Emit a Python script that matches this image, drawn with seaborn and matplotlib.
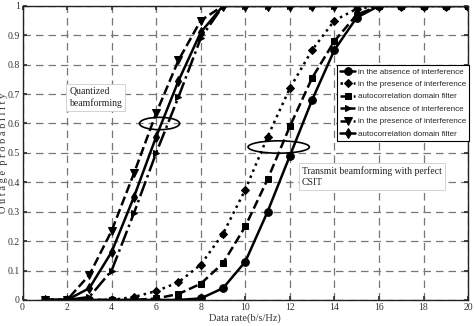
import numpy as np
import pandas as pd
import matplotlib
matplotlib.use("Agg")
import matplotlib.pyplot as plt
from matplotlib.patches import Ellipse
import seaborn as sns

sns.set_theme(style="white")
plt.rcParams['font.family'] = ['Liberation Serif', 'DejaVu Serif']

rate = list(range(1, 21))

# Transmit beamforming with perfect CSIT
csit_absence = [0, 0, 0, 0, 0, 0, 0, 0.005, 0.04, 0.13, 0.30, 0.49, 0.68, 0.85, 0.96, 1, 1, 1, 1, 1]
csit_presence = [0, 0, 0, 0, 0.01, 0.03, 0.06, 0.12, 0.225, 0.375, 0.555, 0.72, 0.85, 0.95, 0.99, 1, 1, 1, 1, 1]
csit_filter = [0, 0, 0, 0, 0, 0.005, 0.02, 0.055, 0.125, 0.25, 0.41, 0.59, 0.755, 0.88, 0.97, 1, 1, 1, 1, 1]

# Quantized beamforming
quant_absence = [0, 0, 0.01, 0.10, 0.295, 0.50, 0.69, 0.89, 1, 1, 1, 1, 1, 1, 1, 1, 1, 1, 1, 1]
quant_presence = [0, 0, 0.085, 0.235, 0.43, 0.635, 0.815, 0.95, 1, 1, 1, 1, 1, 1, 1, 1, 1, 1, 1, 1]
quant_filter = [0, 0, 0.04, 0.163, 0.35, 0.555, 0.745, 0.91, 1, 1, 1, 1, 1, 1, 1, 1, 1, 1, 1, 1]

labels = ["in the absence of interference", "in the presence of interference",
          "autocorrelation domain filter", "in the absence of interference",
          "in the presence of interference", "autocorrelation domain filter"]

series = [csit_absence, csit_presence, csit_filter, quant_absence, quant_presence, quant_filter]
styles = [("-", "o", 5.5), (":", "D", 4.5), ("--", "s", 4.5),
          ("-.", ">", 5), ("--", "v", 6), ("-", "d", 5.5)]

fig = plt.figure(figsize=(4.74, 3.26), dpi=100)
ax = fig.add_axes([0.0475, 0.08, 0.94, 0.902])

for vals, lab, (ls, mk, ms) in zip(series, labels, styles):
    df = pd.DataFrame({"rate": rate, "p": vals})
    sns.lineplot(data=df, x="rate", y="p", ax=ax, color="black", linestyle=ls,
                 marker=mk, markersize=ms, markeredgecolor="black",
                 markerfacecolor="black", linewidth=1.8, label=lab)

ax.set_xlim(0, 20)
ax.set_ylim(0, 1)
ax.set_xticks(np.arange(0, 21, 2))
ax.set_xticklabels([str(v) for v in range(0, 21, 2)])
ax.set_yticks(np.round(np.arange(0, 1.01, 0.1), 1))
ax.set_yticklabels(["0"] + ["%.1f" % v for v in np.arange(0.1, 0.95, 0.1)] + ["1"])
ax.grid(True, color="#777777", linestyle=(0, (6, 4)), linewidth=0.9)
ax.tick_params(direction="in", length=3, labelsize=7, colors="#333333",
               top=True, right=True, bottom=True, left=True, pad=2)
for s in ax.spines.values():
    s.set_color("#222222")
    s.set_linewidth(1.0)

ax.set_xlabel("Data rate(b/s/Hz)", fontsize=7.5, color="#333333", labelpad=1)
ax.set_ylabel("O u t a g e  p r o b a b i l i t y", fontsize=7.5, color="#333333")
ax.yaxis.set_label_coords(-0.033, 0.5)

ax.add_patch(Ellipse((6.15, 0.60), 1.8, 0.042, fill=False, edgecolor="black", linewidth=1.2, zorder=5))
ax.add_patch(Ellipse((11.5, 0.52), 2.75, 0.042, fill=False, edgecolor="black", linewidth=1.2, zorder=5))

ax.text(2.1, 0.725, "Quantized\nbeamforming", fontsize=7, va="top", ha="left",
        linespacing=1.3, color="#222222",
        bbox=dict(boxstyle="square,pad=0.3", facecolor="white", edgecolor="#cccccc", linewidth=0.6))
ax.text(12.55, 0.455, "Transmit beamforming with perfect\nCSIT", fontsize=7, va="top", ha="left",
        linespacing=1.3, color="#222222",
        bbox=dict(boxstyle="square,pad=0.3", facecolor="white", edgecolor="#cccccc", linewidth=0.6))

leg = ax.legend(loc="upper left", bbox_to_anchor=(0.705, 0.80),
                prop={"family": "Liberation Sans", "size": 5.8},
                frameon=True, fancybox=False, edgecolor="black", framealpha=1,
                handlelength=1.9, handletextpad=0.3, labelspacing=0.6, borderpad=0.4,
                borderaxespad=0)
leg.get_frame().set_linewidth(0.8)

fig.savefig("out.png", dpi=100)
